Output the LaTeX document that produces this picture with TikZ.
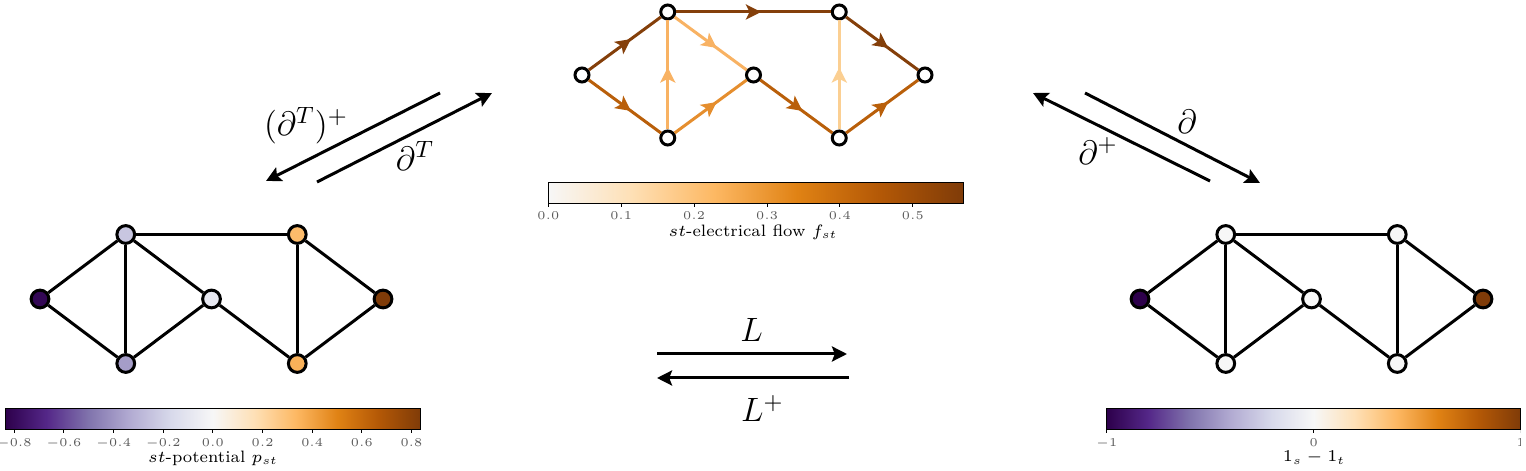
\RequirePackage{fix-cm}
\documentclass[tikz,border=0pt]{standalone}
\usepackage{fontspec}
\usetikzlibrary{arrows.meta,positioning,decorations.markings}

% PuOr scale
\definecolor{po0}{HTML}{2D004B}
\definecolor{po1}{HTML}{542788}
\definecolor{po2}{HTML}{8073AC}
\definecolor{po3}{HTML}{B2ABD2}
\definecolor{po4}{HTML}{D8DAEB}
\definecolor{po5}{HTML}{F7F7F7}
\definecolor{po6}{HTML}{FEE0B6}
\definecolor{po7}{HTML}{FDB863}
\definecolor{po8}{HTML}{E08214}
\definecolor{po9}{HTML}{B35806}
\definecolor{po10}{HTML}{7F3B08}
% vertex potentials
\definecolor{potS}{HTML}{330755}
\definecolor{potA}{HTML}{C8C6E0}
\definecolor{potB}{HTML}{A59DC8}
\definecolor{potC}{HTML}{E7E8F1}
\definecolor{potD}{HTML}{FDBC6B}
\definecolor{potE}{HTML}{F9B159}
\definecolor{potT}{HTML}{7F3B08}
% edge flows
\definecolor{flowhi}{HTML}{843F0A}
\definecolor{flowmid}{HTML}{B95F0A}
\definecolor{flowcd}{HTML}{E58E2E}
\definecolor{flowlo}{HTML}{F8B263}
\definecolor{flowmin}{HTML}{FBCF92}

\pgfdeclarehorizontalshading{puor}{100bp}{color(0bp)=(po0); color(25bp)=(po0);
  color(30bp)=(po1); color(35bp)=(po2); color(40bp)=(po3); color(45bp)=(po4);
  color(50bp)=(po5); color(55bp)=(po6); color(60bp)=(po7); color(65bp)=(po8);
  color(70bp)=(po9); color(75bp)=(po10); color(100bp)=(po10)}
\pgfdeclarehorizontalshading{orhalf}{100bp}{color(0bp)=(po5); color(25bp)=(po5);
  color(35bp)=(po6); color(45bp)=(po7); color(55bp)=(po8); color(65bp)=(po9);
  color(75bp)=(po10); color(100bp)=(po10)}

\begin{document}
\begin{tikzpicture}[x=0.4pt,y=-0.4pt,on grid,
  vtx/.style={circle,draw=black,line width=1.2pt,minimum size=7.1pt,inner sep=0pt},
  fvtx/.style={vtx,fill=white,minimum size=5.6pt},
  edgeline/.style={line width=1.2pt},
  flowedge/.style={line width=1.2pt,
    decoration={markings,mark=at position 0.5 with
      {\arrow[xshift=3pt]{Stealth[length=6pt,width=6pt,inset=1.4pt]}}},
    postaction={decorate}},
  maparrow/.style={line width=1.2pt,-{Stealth[length=6pt,width=6pt,inset=1.1pt]}},
  barframe/.style={draw=black,line width=0.4pt},
  tickmark/.style={line width=0.35pt},
  ticklab/.style={font=\fontsize{4.8}{5.5}\selectfont,text=black!65,inner sep=0pt,
    anchor=north,yshift=-1.8pt},
  barlab/.style={font=\fontsize{6.6}{8}\selectfont},
  maplab/.style={font=\fontsize{13.5}{16}\selectfont}]
  \useasboundingbox (0,0) rectangle (1526,471);

  % st-potential graph
  \node[vtx,fill=potS] (ps) at (40,299) {};
  \node[vtx,fill=potA] (pa) [above right=25.8pt and 34.3pt of ps] {};
  \node[vtx,fill=potB] (pb) [below right=25.8pt and 34.3pt of ps] {};
  \node[vtx,fill=potC] (pc) [below right=25.8pt and 34.3pt of pa] {};
  \node[vtx,fill=potD] (pd) [right=68.6pt of pa] {};
  \node[vtx,fill=potE] (pe) [right=68.6pt of pb] {};
  \node[vtx,fill=potT] (pt) [below right=25.8pt and 34.3pt of pd] {};

  % 1_s - 1_t graph
  \node[vtx,fill=po0] (bs) at (1140,299) {};
  \node[vtx,fill=po5] (ba) [above right=25.8pt and 34.3pt of bs] {};
  \node[vtx,fill=po5] (bb) [below right=25.8pt and 34.3pt of bs] {};
  \node[vtx,fill=po5] (bc) [below right=25.8pt and 34.3pt of ba] {};
  \node[vtx,fill=po5] (bd) [right=68.6pt of ba] {};
  \node[vtx,fill=po5] (be) [right=68.6pt of bb] {};
  \node[vtx,fill=po10] (bt) [below right=25.8pt and 34.3pt of bd] {};

  \foreach \g in {p,b}
    \foreach \u/\v in {s/a,s/b,a/b,a/c,b/c,a/d,c/e,d/e,d/t,e/t}
      \draw[edgeline] (\g\u) -- (\g\v);

  % electrical flow graph
  \node[fvtx] (fs) at (582,75) {};
  \node[fvtx] (fa) [above right=25.2pt and 34.3pt of fs] {};
  \node[fvtx] (fb) [below right=25.2pt and 34.3pt of fs] {};
  \node[fvtx] (fc) [below right=25.2pt and 34.3pt of fa] {};
  \node[fvtx] (fd) [right=68.6pt of fa] {};
  \node[fvtx] (fe) [right=68.6pt of fb] {};
  \node[fvtx] (ft) [below right=25.2pt and 34.3pt of fd] {};

  \draw[flowedge,flowhi] (fs) -- (fa);
  \draw[flowedge,flowmid] (fs) -- (fb);
  \draw[flowedge,flowlo] (fb) -- (fa);
  \draw[flowedge,flowlo] (fa) -- (fc);
  \draw[flowedge,flowcd] (fb) -- (fc);
  \draw[flowedge,flowhi] (fa) -- (fd);
  \draw[flowedge,flowmid] (fc) -- (fe);
  \draw[flowedge,flowmin] (fe) -- (fd);
  \draw[flowedge,flowhi] (fd) -- (ft);
  \draw[flowedge,flowmid] (fe) -- (ft);

  % colour bars
  \shade[shading=orhalf] (548.3,182.5) rectangle (963.3,203.5);
  \draw[barframe] (548.3,182.5) rectangle (963.3,203.5);
  \foreach \v in {0,...,5}
    \draw[tickmark] (548.3+\v*72.9,203.5) -- ++(0,3.5) node[ticklab] {$0.\v$};
  \node[barlab] (flab) at (753,232) {$st$-electrical flow $f_{st}$};

  \shade[shading=puor] (5,409) rectangle (420.7,430);
  \draw[barframe] (5,409) rectangle (420.7,430);
  \foreach \v/\l in {-0.8/-0.8,-0.6/-0.6,-0.4/-0.4,-0.2/-0.2,0/0.0,0.2/0.2,0.4/0.4,0.6/0.6,0.8/0.8}
    \draw[tickmark] (212.85+\v*248.3,430) -- ++(0,3.5) node[ticklab] {$\l$};
  \node[barlab] (plab) at (213,458) {$st$-potential $p_{st}$};

  \shade[shading=puor] (1106.7,409) rectangle (1520.7,430);
  \draw[barframe] (1106.7,409) rectangle (1520.7,430);
  \begin{scope}
    \clip (1000,400) rectangle (1520,471);
    \foreach \v in {-1,0,1}
      \draw[tickmark] (1313.7+\v*207,430) -- ++(0,3.5) node[ticklab] {$\v$};
  \end{scope}
  \node[barlab] (blab) at (1314,458) {$1_s-1_t$};

  % maps between the pictures
  \coordinate (dTfrom) at (317,182);
  \coordinate (dTto) at (492,93);
  \coordinate (dTpfrom) at (440,93);
  \coordinate (dTpto) at (266,181);
  \coordinate (dfrom) at (1085,93);
  \coordinate (dto) at (1260,183);
  \coordinate (dpfrom) at (1210,181);
  \coordinate (dpto) at (1033,93);
  \coordinate (Lfrom) at (657,354);
  \coordinate (Lto) at (847,354);
  \coordinate (Lpfrom) at (849,378);
  \coordinate (Lpto) at (657,378);

  \draw[maparrow] (dTfrom) -- (dTto);
  \draw[maparrow] (dTpfrom) -- (dTpto);
  \draw[maparrow] (dfrom) -- (dto);
  \draw[maparrow] (dpfrom) -- (dpto);
  \draw[maparrow] (Lfrom) -- (Lto);
  \draw[maparrow] (Lpfrom) -- (Lpto);

  \node[maplab] (dTlab) at (415,156) {$\partial^T$};
  \node[maplab] (dTplab) at (306,126) {$(\partial^T)^+$};
  \node[maplab] (dlab) at (1187,122) {$\partial$};
  \node[maplab] (dplab) at (1098,151) {$\partial^+$};
  \node[maplab,anchor=base] (Llab) at (751.5,342) {$L$};
  \node[maplab,anchor=base] (Lplab) at (762.5,422) {$L^+$};
\end{tikzpicture}
\end{document}
